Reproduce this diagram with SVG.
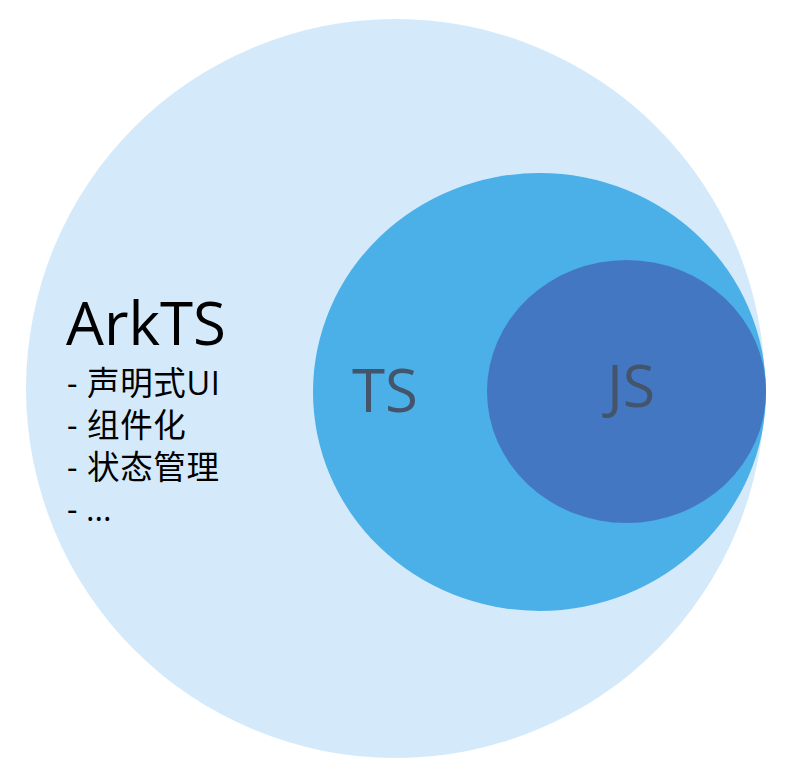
<svg xmlns="http://www.w3.org/2000/svg" width="808" height="780" viewBox="0 0 808 780">
<style>
.lbl{font-family:"Open Sans","Noto Sans","Noto Sans CJK SC",sans-serif;fill:#000}
.big{font-family:"Open Sans","Noto Sans",sans-serif;fill:#44546A}
.cjk{font-family:"Open Sans","Noto Sans CJK SC",sans-serif;fill:#000;font-size:32.5px}
</style>
<rect width="808" height="780" fill="#ffffff"/>
<g id="arkts">
<circle cx="395.5" cy="388.5" r="369.5" fill="#D4EAFB"/>
<text class="lbl" x="66" y="345" font-size="60">ArkTS</text>
<text class="cjk" x="67" y="395" letter-spacing="0.6">- 声明式UI</text>
<text class="cjk" x="67" y="437" letter-spacing="0.6">- 组件化</text>
<text class="cjk" x="67" y="479" letter-spacing="0.6">- 状态管理</text>
<text class="cjk" x="67" y="521" font-size="31">- ...</text>
</g>
<g id="ts">
<ellipse cx="539.5" cy="392" rx="226.5" ry="219" fill="#4BAFE8"/>
<text class="big" x="352" y="412" font-size="60">TS</text>
</g>
<g id="js">
<ellipse cx="626.5" cy="391.5" rx="139.5" ry="131.5" fill="#4477C1"/>
<text class="big" x="607" y="407" font-size="59">JS</text>
</g>
<g id="connectors"/>
</svg>
